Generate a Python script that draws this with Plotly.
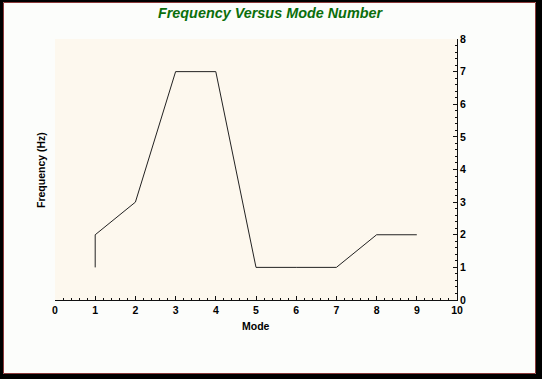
import plotly.graph_objects as go

mode = [1, 1, 2, 3, 4, 5, 6, 7, 8, 9]
freq = [1, 2, 3, 7, 7, 1, 1, 1, 2, 2]
x_ticks = list(range(0, 11))
y_ticks = list(range(0, 9))

W, H = 542, 379
L, R, T, B = 55, 457, 39, 300


def px(x):
    return (x - L) / (R - L)


def py(y):
    return (B - y) / (B - T)


fig = go.Figure()
fig.add_trace(go.Scatter(x=mode, y=freq, mode="lines",
                         line=dict(color="#222222", width=1), hoverinfo="skip"))

font = "Liberation Sans, Arial, sans-serif"
fs = 10.5
fig.update_layout(
    width=W, height=H,
    margin=dict(l=L, r=W - R, t=T, b=H - B, pad=0),
    paper_bgcolor="#FCFDFB",
    plot_bgcolor="#FDF8EE",
    showlegend=False,
    title=dict(text="<b><i>Frequency Versus Mode Number</i></b>",
               font=dict(family=font, size=14.4, color="#0B6E0B"),
               x=px(270), xref="paper", xanchor="center", y=1 - 13 / H, yanchor="middle"),
    xaxis=dict(range=[0, 10], tickvals=x_ticks, ticktext=[f"<b>{v}</b>" for v in x_ticks],
               showgrid=False, zeroline=False, showline=True, linecolor="#111", linewidth=1,
               ticks="inside", ticklen=4, tickcolor="#111", tickwidth=1,
               tickfont=dict(family=font, size=fs, color="#000"),
               minor=dict(dtick=0.2, ticks="inside", ticklen=2, tickcolor="#111", showgrid=False),
               fixedrange=True),
    yaxis=dict(range=[0, 8], tickvals=y_ticks, ticktext=[f"<b>{v}</b>" for v in y_ticks],
               side="right", showgrid=False, zeroline=False, showline=True, linecolor="#111", linewidth=1,
               ticks="inside", ticklen=4, tickcolor="#111", tickwidth=1,
               tickfont=dict(family=font, size=fs, color="#000"),
               minor=dict(dtick=0.2, ticks="inside", ticklen=2, tickcolor="#111", showgrid=False),
               fixedrange=True),
)

fig.add_annotation(text="<b>Mode</b>", xref="paper", yref="paper", x=px(256), y=py(326),
                   showarrow=False, xanchor="center", yanchor="middle",
                   font=dict(family=font, size=fs, color="#000"))
fig.add_annotation(text="<b>Frequency (Hz)</b>", xref="paper", yref="paper", x=px(41), y=py(170),
                   showarrow=False, xanchor="center", yanchor="middle", textangle=-90,
                   font=dict(family=font, size=fs, color="#000"))

# outer frame
for (x0, y0, x1, y1) in [(0, 0, 3, H), (0, 0, W, 2), (536, 0, W, H), (0, 374, W, H)]:
    fig.add_shape(type="rect", xref="paper", yref="paper",
                  x0=px(x0), x1=px(x1), y0=py(y0), y1=py(y1),
                  fillcolor="#000000", line=dict(width=0))
fig.add_shape(type="rect", xref="paper", yref="paper",
              x0=px(3.5), x1=px(535.5), y0=py(2.5), y1=py(373.5),
              fillcolor="rgba(0,0,0,0)", line=dict(color="#8B3A3A", width=1))

fig.write_html("out.html", config={"displayModeBar": False},
               post_script="document.body.style.margin='0';document.body.style.overflow='hidden';")
